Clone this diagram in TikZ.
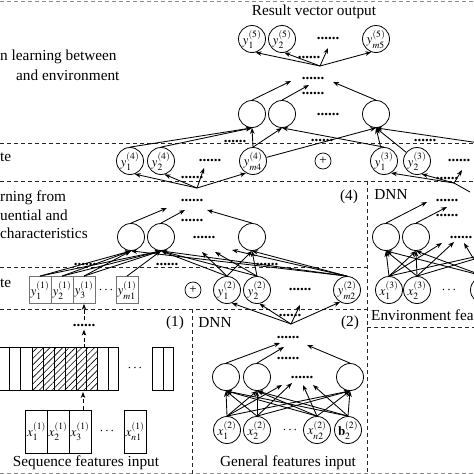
\documentclass[tikz,border=0pt]{standalone}
\usepackage{mathptmx}
\usepackage{fontspec}
\setmainfont{Liberation Serif}
\usepackage{tikz}
\usetikzlibrary{arrows.meta}
\usetikzlibrary{patterns.meta}
\tikzset{
    tnode/.style = {align=center, inner sep=0pt, text centered},
    circ_node/.style = {tnode, circle, draw=black, minimum size=27pt, line width=0.8pt, font=\fontsize{13}{13}\selectfont},
    sum_node/.style = {tnode, circle, draw=black, minimum size=16pt, line width=0.7pt, font=\fontsize{13}{13}\selectfont},
    ybox_node/.style = {tnode, rectangle, draw=black!55, minimum width=22pt, minimum height=27pt, line width=0.8pt, font=\fontsize{13}{13}\selectfont},
    xbox_node/.style = {tnode, rectangle, draw=black, minimum width=22pt, minimum height=43pt, line width=0.8pt, font=\fontsize{13}{13}\selectfont},
    dots_node/.style = {tnode, font=\fontsize{15}{15}\selectfont\bfseries},
    etc_node/.style = {tnode, font=\fontsize{14}{14}\selectfont},
    label_node/.style = {tnode, font=\fontsize{15.3}{18}\selectfont},
    band_line/.style = {dash pattern=on 4pt off 3pt, line width=0.9pt, black!85},
    frame_line/.style = {band_line, black!45},
    feed/.style = {-{Stealth[length=6pt,width=4.5pt]}, line width=0.85pt},
    seq_feed/.style = {feed, dash pattern=on 4pt off 2.5pt}
}
\begin{document}
\begin{tikzpicture}[x=1pt, y=-1pt]

    \useasboundingbox (0,0) rectangle (474,474);
    \fill[white] (0,0) rectangle (474,474);
    \clip (0,0) rectangle (474,474);

    % dashed frames of the blocks
    \draw[frame_line] (0,1) -- (474,1);
    \draw[frame_line] (0,473) -- (474,473);
    \draw[band_line] (0,143) -- (474,143);
    \draw[band_line] (0,181) -- (474,181);
    \draw[band_line] (367,181) -- (367,474);
    \draw[band_line] (0,267) -- (367,267);
    \draw[band_line] (0,309) -- (367,309);
    \draw[band_line] (192,309) -- (192,474);
    \draw[band_line] (367,327) -- (474,327);

    % block texts
    \node[label_node] (restitle) at (314,12) {Result vector output};
    \node[label_node, anchor=west] (lbl5a) at (0,57) {n learning between};
    \node[label_node, anchor=west] (lbl5b) at (16,75) {and environment};
    \node[label_node, anchor=west] (lblcat1) at (0,157) {te};
    \node[label_node, anchor=west] (lbl4a) at (0,198) {rning from};
    \node[label_node, anchor=west] (lbl4b) at (0,215) {uential and};
    \node[label_node, anchor=west] (lbl4c) at (0,233) {characteristics};
    \node[label_node, anchor=west] (lblcat2) at (0,283) {te};
    \node[label_node] (num4) at (349,197) {(4)};
    \node[label_node] (dnn3) at (391,195) {DNN};
    \node[label_node, anchor=west] (lblenv) at (371,315) {Environment fea};
    \node[label_node] (num1) at (175,323) {(1)};
    \node[label_node] (dnn2) at (215,323) {DNN};
    \node[label_node] (num2) at (350,323) {(2)};
    \node[label_node] (lblseq) at (86,463) {Sequence features input};
    \node[label_node] (lblgen) at (288,463) {General features input};

    % DNN (5): result output
    \node[circ_node] (out1) at (252,39) {$y^{(5)}_{1}$};
    \node[circ_node] (out2) at (282,39) {$y^{(5)}_{2}$};
    \node[dots_node] (outdots) at (328,38) {......};
    \node[circ_node] (outm) at (376,39) {$y^{(5)}_{m5}$};
    \node[dots_node] (mid5) at (309,57) {......};
    \node[dots_node] (t5) at (313,78) {......};
    \node[dots_node] (low5) at (313,93) {......};
    \node[circ_node] (h5a) at (252,114) {};
    \node[circ_node] (h5b) at (282,114) {};
    \node[dots_node] (h5dots) at (328,114) {......};
    \node[circ_node] (h5c) at (376,114) {};

    \coordinate (s5) at (320,66);
    \coordinate (u5) at (328,48);
    \coordinate (t5a) at (291,81);
    \coordinate (t5b) at (309,85);
    \coordinate (t5c) at (333,82);
    \coordinate (off5) at (500,146);

    \draw[feed] (s5) -- (out1.-75);
    \draw[feed] (s5) -- (out2.-80);
    \draw[feed] (s5) -- (u5);
    \draw[feed] (s5) -- (outm.-110);
    \draw[feed] (h5a.north) -- (t5a);
    \draw[feed] (h5b.north) -- (t5b);
    \draw[feed] (h5c.north) -- (t5c);

    % concatenated outputs of (3) and (4)
    \node[circ_node] (y4a) at (130,161) {$y^{(4)}_{1}$};
    \node[circ_node] (y4b) at (161,161) {$y^{(4)}_{2}$};
    \node[dots_node] (y4dots) at (210,160) {......};
    \node[circ_node] (y4m) at (253,161) {$y^{(4)}_{m4}$};
    \node[sum_node] (plus1) at (323,161) {+};
    \node[circ_node] (y3a) at (384,161) {$y^{(3)}_{1}$};
    \node[circ_node] (y3b) at (417,161) {$y^{(3)}_{2}$};
    \node[dots_node] (y3dots) at (459,160) {......};
    \node[dots_node] (w5a) at (235,141) {......};
    \node[dots_node] (w5b) at (322,140) {......};
    \node[dots_node] (w5c) at (425,140) {......};

    \foreach \s in {y4a, y4b, y4m}
        \draw[feed] (\s.north) -- (h5a.south);
    \draw[feed] (y4m.north) -- (h5b.south);
    \draw[feed] (y3a.north) -- (h5b.south);
    \foreach \s in {y4m, y3a, y3b, off5}
        \draw[feed] (\s) -- (h5c.south);

    % DNN (4)
    \node[dots_node] (mid4) at (192,177) {......};
    \node[dots_node] (t4) at (192,200) {......};
    \node[dots_node] (low4) at (192,220) {......};
    \node[circ_node] (h4a) at (131,237) {};
    \node[circ_node] (h4b) at (161,237) {};
    \node[dots_node] (h4dots) at (204,237) {......};
    \node[circ_node] (h4c) at (252,237) {};

    \coordinate (s4) at (197,188);
    \coordinate (u4) at (204,168);
    \coordinate (t4a) at (167,208);
    \coordinate (t4b) at (185,210);
    \coordinate (t4c) at (207,210);
    \coordinate (d4a) at (202,252);
    \coordinate (d4b) at (215,252);
    \coordinate (d4c) at (232,250);

    \draw[feed] (s4) -- (y4a.-70);
    \draw[feed] (s4) -- (y4b.-75);
    \draw[feed] (s4) -- (u4);
    \draw[feed] (s4) -- (y4m.-120);
    \draw[feed] (h4a.north) -- (t4a);
    \draw[feed] (h4b.north) -- (t4b);
    \draw[feed] (h4c.north) -- (t4c);

    % concatenated outputs of (1) and (2)
    \node[ybox_node] (yb1) at (40,290) {$y^{(1)}_{1}$};
    \node[ybox_node] (yb2) at (62,290) {$y^{(1)}_{2}$};
    \node[ybox_node] (yb3) at (84,290) {$y^{(1)}_{3}$};
    \node[etc_node] (ybdots) at (106,290) {$\cdots$};
    \node[ybox_node] (ybm) at (127,290) {$y^{(1)}_{m1}$};
    \node[sum_node] (plus2) at (193,290) {+};
    \node[circ_node] (y2a) at (227,290) {$y^{(2)}_{1}$};
    \node[circ_node] (y2b) at (257,290) {$y^{(2)}_{2}$};
    \node[dots_node] (y2dots) at (300,289) {......};
    \node[circ_node] (y2m) at (347,290) {$y^{(2)}_{m2}$};
    \node[dots_node] (w4a) at (85,264) {......};
    \node[dots_node] (w4b) at (167,264) {......};
    \node[dots_node] (w4c) at (267,264) {......};

    \foreach \s in {yb1, yb2, yb3}
        \draw[feed] (\s.north) -- (h4a.south);
    \foreach \s in {yb1, yb2, yb3, ybm, y2a, y2b, y2m}
        \draw[feed] (\s.north) -- (h4b.south);
    \draw[feed] (y2m.north) -- (h4a.south);
    \foreach \s in {y2a, y2b, y2m}
        \draw[feed] (\s.north) -- (h4c.south);
    \draw[feed] (y2a.north) -- (d4a);
    \draw[feed] (y2b.north) -- (d4b);
    \draw[feed] (y2m.north) -- (d4c);

    % block (1): sequence features
    \node[dots_node] (seqdots) at (84,325) {......};
    \coordinate (striptop) at (83,347);
    \coordinate (stripbot) at (83,390);
    \foreach \xa/\xb in {-2/9, 9/20, 20/32, 97/108, 108/118, 152/163, 163/173}
        \draw[line width=0.8pt] (\xa,347) rectangle (\xb,390);
    \foreach \xa/\xb in {32/43, 43/54, 54/65, 65/76, 76/86, 86/97}
        \draw[line width=0.8pt, pattern={Lines[angle=45, distance=4.5pt, line width=0.6pt]}] (\xa,347) rectangle (\xb,390);
    \node[etc_node] (stripdots) at (135,368) {$\cdots$};

    \node[xbox_node] (xb1) at (36.5,431.5) {$x^{(1)}_{1}$};
    \node[xbox_node] (xb2) at (58,431.5) {$x^{(1)}_{2}$};
    \node[xbox_node] (xb3) at (80,431.5) {$x^{(1)}_{3}$};
    \node[etc_node] (xbdots) at (107,431) {$\cdots$};
    \node[xbox_node] (xbn) at (135,431.5) {$x^{(1)}_{n1}$};

    \draw[seq_feed] (xb3.north -| stripbot) -- ([yshift=-2pt]stripbot);
    \draw[seq_feed] (striptop) -- (seqdots.south |- striptop) -- ([yshift=-6pt]seqdots.north);
    \draw[seq_feed] ([yshift=6pt]seqdots.south) -- (yb3.south);

    % block (2): DNN on general features
    \node[dots_node] (mid2) at (290,315) {......};
    \node[dots_node] (t2) at (288,337) {......};
    \node[dots_node] (low2) at (288,358) {......};
    \node[circ_node] (h2a) at (226,377) {};
    \node[circ_node] (h2b) at (257,377) {};
    \node[dots_node] (h2dots) at (302,377) {......};
    \node[circ_node] (h2c) at (350,377) {};
    \node[circ_node] (x2a) at (227,430) {$x^{(2)}_{1}$};
    \node[circ_node] (x2b) at (257,430) {$x^{(2)}_{2}$};
    \node[etc_node] (x2dots) at (290,430) {$\cdots$};
    \node[circ_node] (x2n) at (317,430) {$x^{(2)}_{n2}$};
    \node[circ_node] (x2bias) at (348,430) {$\mathbf{b}^{(2)}_{2}$};

    \coordinate (s2) at (291,324);
    \coordinate (u2) at (300,305);
    \coordinate (t2a) at (280,343);
    \coordinate (t2b) at (284,347);
    \coordinate (t2c) at (307,345);
    \coordinate (d2a) at (282,385);
    \coordinate (d2b) at (292,383);
    \coordinate (d2c) at (303,385);
    \coordinate (d2d) at (313,385);

    \draw[feed] (s2) -- (y2a.-70);
    \draw[feed] (s2) -- (y2b.-80);
    \draw[feed] (s2) -- (u2);
    \draw[feed] (s2) -- (y2m.-120);
    \draw[feed] (h2a.north) -- (t2a);
    \draw[feed] (h2b.north) -- (t2b);
    \draw[feed] (h2c.north) -- (t2c);
    \foreach \s in {x2a, x2b, x2n, x2bias}
        \foreach \t in {h2a, h2b, h2c}
            \draw[feed] (\s.north) -- (\t.south);
    \draw[feed] (x2a.north) -- (d2a);
    \draw[feed] (x2b.north) -- (d2b);
    \draw[feed] (x2n.north) -- (d2c);
    \draw[feed] (x2bias.north) -- (d2d);

    % block (3): DNN on environment features
    \node[dots_node] (mid3) at (447,178) {......};
    \node[dots_node] (t3) at (447,200) {......};
    \node[dots_node] (low3) at (447,215) {......};
    \node[circ_node] (h3a) at (386,237) {};
    \node[circ_node] (h3b) at (416,237) {};
    \node[dots_node] (h3dots) at (461,237) {......};
    \node[circ_node] (x3a) at (389,290) {$x^{(3)}_{1}$};
    \node[circ_node] (x3b) at (417,290) {$x^{(3)}_{2}$};
    \node[etc_node] (x3dots) at (449,290) {$\cdots$};
    \node[circ_node] (x3n) at (484,290) {$x^{(3)}_{n3}$};

    \coordinate (s3) at (454,183);
    \coordinate (u3) at (462,170);
    \coordinate (off3a) at (470,192);
    \coordinate (t3a) at (427,202);
    \coordinate (t3b) at (447,207);
    \coordinate (d3a) at (442,243);
    \coordinate (d3b) at (454,242);
    \coordinate (d3c) at (464,243);
    \coordinate (h3far) at (505,250);

    \draw[feed] (s3) -- (y3a.-60);
    \draw[feed] (s3) -- (y3b.-70);
    \draw[feed] (s3) -- (u3);
    \draw[line width=0.85pt] (s3) -- (off3a);
    \draw[feed] (h3a.north) -- (t3a);
    \draw[feed] (h3b.north) -- (t3b);
    \foreach \s in {x3a, x3b, x3n}
        \foreach \t in {h3a, h3b}
            \draw[feed] (\s.north) -- (\t.south);
    \foreach \s in {x3a, x3b}
        \draw[line width=0.85pt] (\s.north) -- (h3far);
    \draw[feed] (x3a.north) -- (d3a);
    \draw[feed] (x3b.north) -- (d3b);
    \draw[feed] (x3n.north) -- (d3c);

\end{tikzpicture}
\end{document}
